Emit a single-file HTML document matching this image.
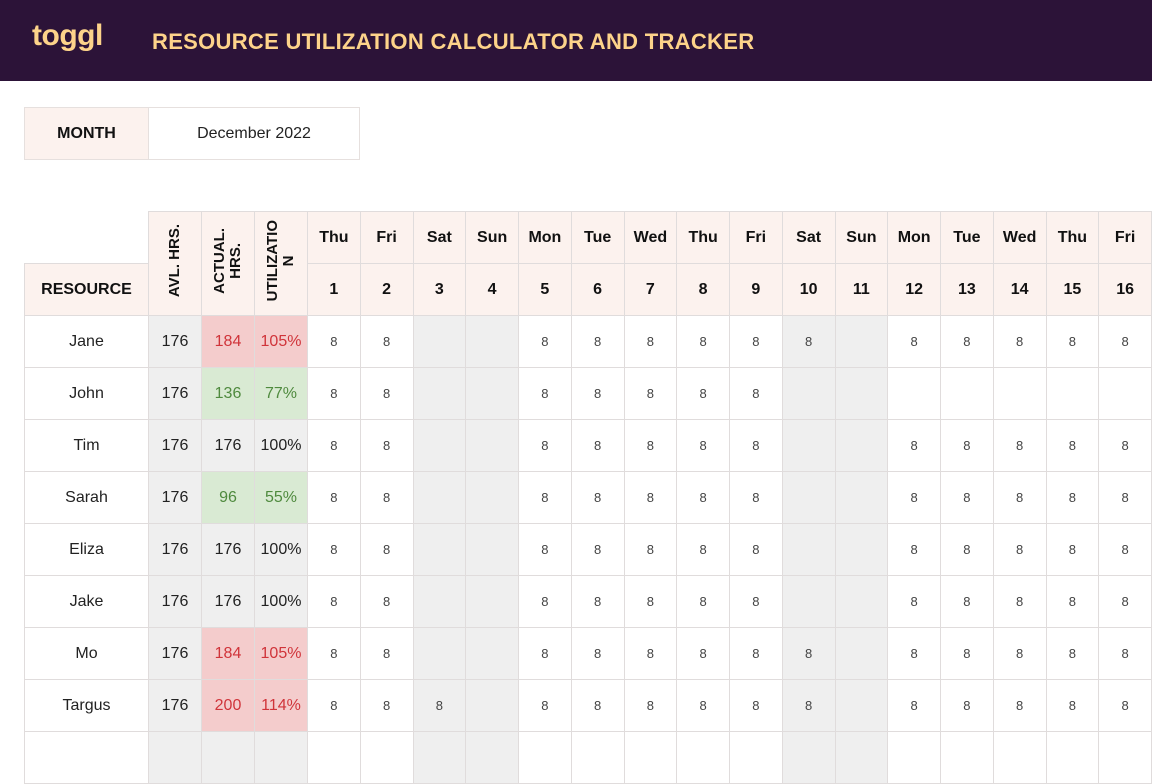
<!DOCTYPE html>
<html><head><meta charset="utf-8"><style>
*{margin:0;padding:0;box-sizing:border-box}
body{width:1152px;height:732px;overflow:hidden;background:#fff;font-family:"Liberation Sans",sans-serif;position:relative}
.hdr{position:absolute;left:0;top:0;width:1152px;height:81px;background:#2c1338}
.logo{position:absolute;left:32px;top:19px;font-size:30px;font-weight:bold;color:#fdd38a;letter-spacing:-0.5px}
.title{position:absolute;left:152px;top:29px;font-size:22px;font-weight:bold;color:#fdd38a;letter-spacing:0.3px}
.mb{position:absolute;top:107px;height:53px;border:1px solid #e6e0de;display:flex;align-items:center;justify-content:center;font-size:16px;color:#222}
table{position:absolute;left:24px;top:211px;border-collapse:collapse;table-layout:fixed;width:1127px}
td{border:1px solid #e0dcdc;height:52px;text-align:center;vertical-align:middle;font-size:13px;color:#444}
.h{background:#fcf2ee;font-weight:bold;font-size:16px;color:#111}
.nb{border:none;background:#fff}
.rot{writing-mode:vertical-rl;transform:rotate(180deg);display:inline-block;font-size:15px;font-weight:bold;color:#111;line-height:16px;text-align:center}
.nm{font-size:16px;color:#222}
.g{background:#efefef}
.n{font-size:16px;color:#222}
.r{background:#f4cccc;color:#d0343a;font-size:16px}
.gr{background:#d9ead3;color:#4f8a3e;font-size:16px}
</style></head><body>
<div class="hdr"><div class="logo">toggl</div><div class="title">RESOURCE UTILIZATION CALCULATOR AND TRACKER</div></div>
<div class="mb" style="left:24px;width:125px;background:#fcf2ee;font-weight:bold;color:#111">MONTH</div>
<div class="mb" style="left:148px;width:212px">December 2022</div>
<table>
<colgroup><col style="width:124px"><col style="width:53px"><col style="width:53px"><col style="width:53px">
<col span="16" style="width:52.75px"></colgroup>
<tr><td class="nb"></td>
<td class="h" rowspan="2"><span class="rot">AVL. HRS.</span></td>
<td class="h" rowspan="2"><span class="rot">ACTUAL.<br>HRS.</span></td>
<td class="h" rowspan="2"><span class="rot">UTILIZATIO<br>N</span></td>
<td class="h">Thu</td><td class="h">Fri</td><td class="h">Sat</td><td class="h">Sun</td><td class="h">Mon</td><td class="h">Tue</td><td class="h">Wed</td><td class="h">Thu</td><td class="h">Fri</td><td class="h">Sat</td><td class="h">Sun</td><td class="h">Mon</td><td class="h">Tue</td><td class="h">Wed</td><td class="h">Thu</td><td class="h">Fri</td></tr>
<tr><td class="h">RESOURCE</td>
<td class="h">1</td><td class="h">2</td><td class="h">3</td><td class="h">4</td><td class="h">5</td><td class="h">6</td><td class="h">7</td><td class="h">8</td><td class="h">9</td><td class="h">10</td><td class="h">11</td><td class="h">12</td><td class="h">13</td><td class="h">14</td><td class="h">15</td><td class="h">16</td></tr>
<tr><td class="nm">Jane</td><td class="g n">176</td><td class="r">184</td><td class="r">105%</td><td>8</td><td>8</td><td class="g"></td><td class="g"></td><td>8</td><td>8</td><td>8</td><td>8</td><td>8</td><td class="g">8</td><td class="g"></td><td>8</td><td>8</td><td>8</td><td>8</td><td>8</td></tr>
<tr><td class="nm">John</td><td class="g n">176</td><td class="gr">136</td><td class="gr">77%</td><td>8</td><td>8</td><td class="g"></td><td class="g"></td><td>8</td><td>8</td><td>8</td><td>8</td><td>8</td><td class="g"></td><td class="g"></td><td></td><td></td><td></td><td></td><td></td></tr>
<tr><td class="nm">Tim</td><td class="g n">176</td><td class="g n">176</td><td class="g n">100%</td><td>8</td><td>8</td><td class="g"></td><td class="g"></td><td>8</td><td>8</td><td>8</td><td>8</td><td>8</td><td class="g"></td><td class="g"></td><td>8</td><td>8</td><td>8</td><td>8</td><td>8</td></tr>
<tr><td class="nm">Sarah</td><td class="g n">176</td><td class="gr">96</td><td class="gr">55%</td><td>8</td><td>8</td><td class="g"></td><td class="g"></td><td>8</td><td>8</td><td>8</td><td>8</td><td>8</td><td class="g"></td><td class="g"></td><td>8</td><td>8</td><td>8</td><td>8</td><td>8</td></tr>
<tr><td class="nm">Eliza</td><td class="g n">176</td><td class="g n">176</td><td class="g n">100%</td><td>8</td><td>8</td><td class="g"></td><td class="g"></td><td>8</td><td>8</td><td>8</td><td>8</td><td>8</td><td class="g"></td><td class="g"></td><td>8</td><td>8</td><td>8</td><td>8</td><td>8</td></tr>
<tr><td class="nm">Jake</td><td class="g n">176</td><td class="g n">176</td><td class="g n">100%</td><td>8</td><td>8</td><td class="g"></td><td class="g"></td><td>8</td><td>8</td><td>8</td><td>8</td><td>8</td><td class="g"></td><td class="g"></td><td>8</td><td>8</td><td>8</td><td>8</td><td>8</td></tr>
<tr><td class="nm">Mo</td><td class="g n">176</td><td class="r">184</td><td class="r">105%</td><td>8</td><td>8</td><td class="g"></td><td class="g"></td><td>8</td><td>8</td><td>8</td><td>8</td><td>8</td><td class="g">8</td><td class="g"></td><td>8</td><td>8</td><td>8</td><td>8</td><td>8</td></tr>
<tr><td class="nm">Targus</td><td class="g n">176</td><td class="r">200</td><td class="r">114%</td><td>8</td><td>8</td><td class="g">8</td><td class="g"></td><td>8</td><td>8</td><td>8</td><td>8</td><td>8</td><td class="g">8</td><td class="g"></td><td>8</td><td>8</td><td>8</td><td>8</td><td>8</td></tr>
<tr><td></td><td class="g"></td><td class="g"></td><td class="g"></td><td></td><td></td><td class="g"></td><td class="g"></td><td></td><td></td><td></td><td></td><td></td><td class="g"></td><td class="g"></td><td></td><td></td><td></td><td></td><td></td></tr>
</table>
</body></html>
